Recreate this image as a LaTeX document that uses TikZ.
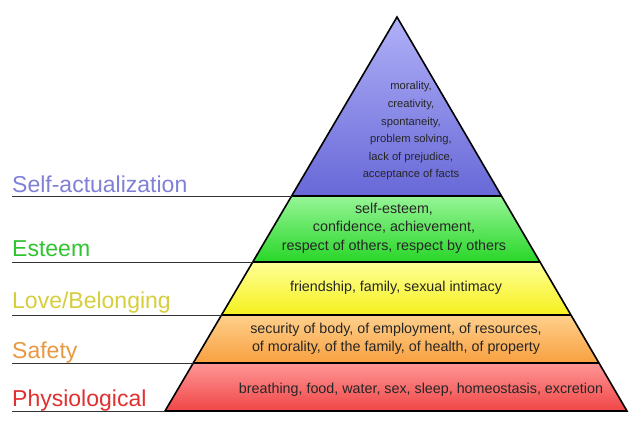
\documentclass[tikz,border=0pt]{standalone}
\usepackage{fontspec}
\setmainfont{Liberation Sans}
\begin{document}
\begin{tikzpicture}[x=1pt,y=-1pt,
  lvl/.style={draw=black,line width=1.6pt,line join=miter},
  rule/.style={draw=black!80,line width=1pt},
  inner/.style={font=\fontsize{14.3}{18.5}\selectfont,align=center,text=black!85,inner sep=0pt},
  innersm/.style={inner,font=\fontsize{11.2}{17.6}\selectfont},
  lab/.style={font=\fontsize{23}{24}\selectfont,anchor=base west,inner sep=0pt}]
\useasboundingbox (0,0) rectangle (644,432);
\fill[white] (0,0) rectangle (644,432);
% layers
\shade[top color={rgb,255:red,176;green,176;blue,248}, bottom color={rgb,255:red,104;green,104;blue,216}] (397,17) -- (501.5,196) -- (291.6,196) -- cycle;
\shade[top color={rgb,255:red,150;green,245;blue,150}, bottom color={rgb,255:red,40;green,214;blue,40}] (291.6,196) -- (501.5,196) -- (540,262) -- (252.7,262) -- cycle;
\shade[top color={rgb,255:red,255;green,255;blue,150}, bottom color={rgb,255:red,245;green,240;blue,30}] (252.7,262) -- (540,262) -- (571,315) -- (221.5,315) -- cycle;
\shade[top color={rgb,255:red,255;green,208;blue,140}, bottom color={rgb,255:red,248;green,160;blue,64}] (221.5,315) -- (571,315) -- (599,363) -- (193.3,363) -- cycle;
\shade[top color={rgb,255:red,255;green,150;blue,150}, bottom color={rgb,255:red,240;green,70;blue,70}] (193.3,363) -- (599,363) -- (627,411) -- (165,411) -- cycle;
\draw[lvl] (397,17) -- (627,411) -- (165,411) -- cycle;
\draw[lvl] (291.6,196) -- (501.5,196) (252.7,262) -- (540,262) (221.5,315) -- (571,315) (193.3,363) -- (599,363);
% rules
\coordinate (r1) at (12,196); \coordinate (e1) at (291.6,196);
\coordinate (r2) at (12,262); \coordinate (e2) at (252.7,262);
\coordinate (r3) at (12,315); \coordinate (e3) at (221.5,315);
\coordinate (r4) at (12,363); \coordinate (e4) at (193.3,363);
\coordinate (r5) at (12,411); \coordinate (e5) at (165,411);
\draw[rule] (r1) -- (e1) (r2) -- (e2) (r3) -- (e3) (r4) -- (e4) (r5) -- (e5);
% labels
\node[lab,text={rgb,255:red,128;green,128;blue,216}] (l1) at (12,192) {Self-actualization};
\node[lab,text={rgb,255:red,48;green,196;blue,48}] (l2) at (12,256) {Esteem};
\node[lab,text={rgb,255:red,214;green,206;blue,60}] (l3) at (12,308) {Love/Belonging};
\node[lab,text={rgb,255:red,232;green,152;blue,64}] (l4) at (12,358) {Safety};
\node[lab,text={rgb,255:red,224;green,48;blue,48}] (l5) at (12,406) {Physiological};
% inner texts
\node[innersm] (t1) at (411,131) {morality,\\creativity,\\spontaneity,\\problem solving,\\lack of prejudice,\\acceptance of facts};
\node[inner] (t2) at (394,228) {self-esteem,\\confidence, achievement,\\respect of others, respect by others};
\node[inner] (t3) at (396,288) {friendship, family, sexual intimacy};
\node[inner] (t4) at (396,339) {security of body, of employment, of resources,\\of morality, of the family, of health, of property};
\node[inner] (t5) at (421,390) {breathing, food, water, sex, sleep, homeostasis, excretion};
\end{tikzpicture}
\end{document}
